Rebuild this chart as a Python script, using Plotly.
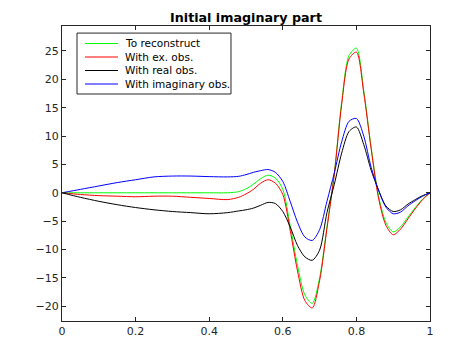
import plotly.graph_objects as go

x = [0, 0.05, 0.1, 0.15, 0.2, 0.25, 0.3, 0.35, 0.4, 0.45, 0.48, 0.5, 0.52, 0.54, 0.56, 0.58,
     0.6, 0.62, 0.64, 0.66, 0.68, 0.70, 0.72, 0.74, 0.76, 0.78, 0.80, 0.82, 0.84, 0.86, 0.88,
     0.90, 0.92, 0.94, 0.96, 0.98, 1.0]

to_reconstruct = [0, 0, 0, 0, 0, 0, 0, 0, 0, 0, 0.2, 0.7, 1.5, 2.5, 3.1, 2.6,
                  0.6, -5.8, -12.8, -18.0, -19.5, -15.0, -6.0, 3.5, 16.0, 24.2, 25.5, 18.0, 8.0, -0.5, -5.2,
                  -6.9, -6.0, -4.3, -2.6, -1.1, 0]
with_ex = [0, -0.3, -0.5, -0.6, -0.7, -0.6, -0.6, -0.8, -1.0, -1.2, -0.8, -0.2, 0.6, 1.7, 2.3, 1.7,
           -0.3, -6.6, -13.8, -19.0, -20.3, -15.5, -6.3, 3.3, 15.6, 23.6, 24.8, 17.6, 7.8, -0.9, -5.7,
           -7.4, -6.4, -4.6, -2.8, -1.2, 0]
with_real = [0, -0.8, -1.5, -2.1, -2.6, -3.0, -3.3, -3.5, -3.7, -3.5, -3.2, -3.0, -2.7, -2.2, -1.7, -1.9,
             -3.3, -6.0, -9.3, -11.3, -11.9, -10.1, -3.5, 1.5, 7.0, 10.8, 11.6, 8.5, 4.0, 0.5, -2.3,
             -3.3, -3.0, -2.0, -1.2, -0.5, 0]
with_imag = [0, 0.6, 1.2, 1.8, 2.3, 2.8, 2.95, 2.95, 2.85, 2.8, 2.9, 3.2, 3.6, 3.9, 4.1, 3.6,
             2.0, -1.5, -5.2, -7.8, -8.4, -6.5, -1.5, 3.5, 9.0, 12.6, 13.1, 10.0, 4.5, 0.5, -2.5,
             -3.7, -3.4, -2.3, -1.4, -0.6, 0]

names = ["To reconstruct", "With ex. obs.", "With real obs.", "With imaginary obs."]
colors = ["#00ff00", "#ff0000", "#000000", "#0000ff"]
series = [to_reconstruct, with_ex, with_real, with_imag]

xticks = [0, 0.2, 0.4, 0.6, 0.8, 1]
xticklabels = ["0", "0.2", "0.4", "0.6", "0.8", "1"]
yticks = [-20, -15, -10, -5, 0, 5, 10, 15, 20, 25]

fig = go.Figure()
for n, c, s in zip(names, colors, series):
    fig.add_trace(go.Scatter(x=x, y=s, mode="lines", name=n, showlegend=False,
                             line=dict(color=c, width=1, shape="spline", smoothing=0.8)))

axis_common = dict(showline=True, linecolor="#262626", linewidth=1, mirror="allticks",
                   ticks="inside", ticklen=4, tickcolor="#262626", showgrid=False,
                   zeroline=False, tickfont=dict(family="DejaVu Sans", size=11, color="#262626"))

# Legend box drawn in paper coordinates (MATLAB-style compact legend)
lx0, lx1, ly0, ly1 = 0.0408, 0.4592, 0.7695, 0.976
entry_y = [0.9407, 0.8949, 0.8492, 0.8034]
shapes = [dict(type="rect", xref="paper", yref="paper", x0=lx0, x1=lx1, y0=ly0, y1=ly1,
               line=dict(color="#262626", width=1), fillcolor="white", layer="above")]
annotations = []
for n, c, ey in zip(names, colors, entry_y):
    shapes.append(dict(type="line", xref="paper", yref="paper", x0=0.0625, x1=0.1522,
                       y0=ey, y1=ey, line=dict(color=c, width=1.2), layer="above"))
    annotations.append(dict(text=n, xref="paper", yref="paper", x=0.1658, y=ey,
                            xanchor="left", yanchor="middle", showarrow=False,
                            font=dict(family="DejaVu Sans", size=10.5, color="#000000")))

fig.update_layout(
    width=466, height=352,
    margin=dict(l=54, r=44, t=18, b=39),
    paper_bgcolor="white", plot_bgcolor="white",
    title=dict(text="<b>Initial imaginary part</b>", x=(246 - 8) / 466, xanchor="center",
               y=1 - 10 / 352, yanchor="middle",
               font=dict(family="DejaVu Sans", size=12.7, color="#000000")),
    xaxis=dict(range=[0, 1], tickvals=xticks, ticktext=xticklabels, **axis_common),
    yaxis=dict(range=[-22.6, 29.4], tickvals=yticks, **axis_common),
    shapes=shapes,
    annotations=annotations,
    showlegend=False,
)

fig.write_html("out.html")
